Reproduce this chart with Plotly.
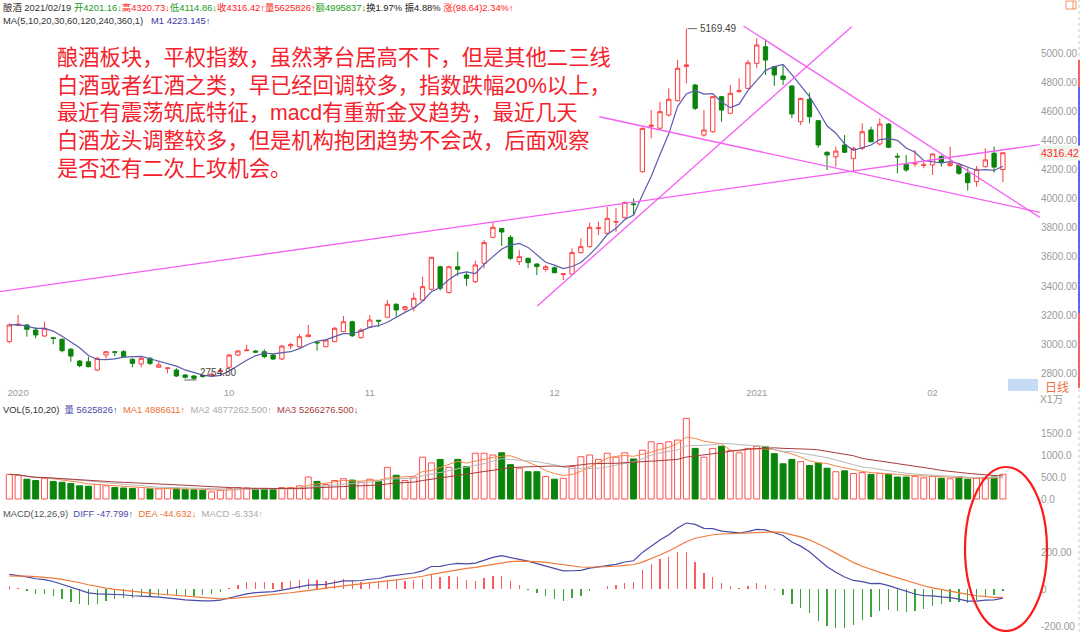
import numpy as np
import pandas as pd
import plotly.graph_objects as go

# ---------------- data ----------------
opens = [3018, 3130, 3133, 3098, 3057, 3045, 3034, 2966, 2885, 2880,
         2823, 2926, 2949, 2949, 2897, 2865, 2904, 2842, 2835, 2823,
         2789, 2782, 2785, 2782, 2812, 2842, 2926, 2956, 2954, 2949,
         2926, 2899, 2990, 2983, 3052, 3015, 2983, 3018, 3087, 3155,
         3045, 3117, 3165, 3186, 3275, 3240, 3254, 3304, 3378, 3533,
         3355, 3533, 3476, 3430, 3557, 3735, 3795, 3735, 3568, 3591,
         3552, 3515, 3526, 3480, 3483, 3630, 3671, 3795, 3763, 3840,
         3870, 3965, 4186, 4498, 4485, 4576, 4674, 4910, 4782, 4438,
         4461, 4702, 4588, 4736, 4759, 4931, 5045, 4908, 4844, 4775,
         4530, 4684, 4537, 4320, 4289, 4370, 4278, 4347, 4473, 4377,
         4514, 4292, 4237, 4240, 4229, 4233, 4290, 4228, 4233, 4175,
         4118, 4221, 4313, 4201.16]
highs = [3144, 3201, 3138, 3117, 3155, 3046, 3040, 2975, 2892, 2915,
         2912, 2953, 2950, 2961, 2904, 2915, 2911, 2880, 2838, 2835,
         2796, 2789, 2790, 2800, 2835, 2933, 2961, 2995, 2958, 2966,
         2933, 2995, 3010, 3069, 3133, 3017, 3032, 3120, 3194, 3162,
         3110, 3201, 3166, 3304, 3282, 3262, 3354, 3465, 3600, 3540,
         3540, 3636, 3499, 3575, 3717, 3838, 3800, 3750, 3648, 3595,
         3556, 3545, 3535, 3486, 3660, 3728, 3836, 3843, 3946, 3935,
         3980, 4003, 4490, 4610, 4667, 4759, 4954, 5169.49, 4790, 4610,
         4706, 4705, 4782, 4828, 4954, 5103, 5087, 4910, 4920, 4782,
         4695, 4729, 4540, 4324, 4358, 4438, 4358, 4519, 4496, 4553,
         4520, 4313, 4301, 4335, 4255, 4313, 4301, 4358, 4240, 4210,
         4225, 4347, 4358, 4320.73]
lows = [3007, 3125, 3052, 3041, 3052, 3000, 2945, 2880, 2842, 2842,
        2816, 2904, 2919, 2910, 2842, 2842, 2858, 2838, 2801, 2775,
        2766, 2754.80, 2770, 2778, 2805, 2835, 2920, 2955, 2942, 2904,
        2892, 2892, 2968, 2978, 3050, 2956, 2980, 3015, 3085, 3050,
        3040, 3115, 3121, 3180, 3190, 3225, 3225, 3300, 3370, 3370,
        3350, 3470, 3400, 3420, 3522, 3730, 3676, 3580, 3545, 3522,
        3476, 3499, 3488, 3442, 3476, 3625, 3665, 3751, 3760, 3774,
        3865, 3889, 4180, 4416, 4475, 4565, 4670, 4794, 4610, 4427,
        4455, 4530, 4585, 4730, 4755, 4897, 4851, 4775, 4782, 4555,
        4507, 4519, 4350, 4198, 4220, 4315, 4186, 4335, 4388, 4365,
        4348, 4175, 4186, 4221, 4210, 4164, 4221, 4221, 4165, 4056,
        4083, 4215, 4179, 4114.86]
closes = [3133, 3137, 3103, 3064, 3110, 3040, 2956, 2919, 2853, 2846,
          2904, 2949, 2945, 2915, 2869, 2904, 2869, 2858, 2837, 2782,
          2773, 2766, 2780, 2795, 2818, 2926, 2954, 2960, 2946, 2915,
          2899, 2988, 2997, 3052, 3064, 3010, 3029, 3110, 3155, 3059,
          3098, 3167, 3160, 3275, 3236, 3258, 3316, 3396, 3598, 3385,
          3533, 3515, 3454, 3545, 3699, 3804, 3772, 3591, 3602, 3561,
          3534, 3533, 3492, 3484, 3630, 3671, 3804, 3800, 3866, 3843,
          3975, 3960, 4484, 4505, 4599, 4684, 4897, 4920, 4622, 4473,
          4702, 4610, 4725, 4743, 4935, 5057, 4954, 4851, 4821, 4583,
          4690, 4564, 4370, 4301, 4328, 4320, 4347, 4461, 4392, 4514,
          4354, 4288, 4198, 4245, 4233, 4308, 4248, 4244, 4175, 4111,
          4203, 4267.5, 4217.78, 4316.42]
# volume in units of 10,000 (X1万)
volumes = [560, 540, 450, 420, 470, 400, 380, 350, 300, 290,
           330, 300, 260, 250, 240, 260, 230, 230, 240, 240,
           220, 210, 200, 160, 200, 240, 260, 250, 230, 230,
           220, 260, 260, 300, 500, 400, 330, 420, 460, 430,
           380, 450, 400, 720, 540, 420, 500, 950, 820, 900,
           720, 900, 740, 1040, 1040, 1000, 1050, 780, 700, 620,
           620, 510, 450, 470, 740, 960, 1000, 900, 1040, 950,
           1050, 910, 1110, 1300, 1260, 1300, 1340, 1833, 1150, 950,
           1150, 1200, 1100, 1050, 1150, 1200, 1190, 1030, 800, 900,
           850, 760, 820, 700, 620, 640, 580, 600, 560, 580,
           560, 500, 500, 515, 480, 520, 470, 460, 504, 450,
           470, 460, 500, 562.5826]
month_tick_idx = [1, 25, 41, 62, 85, 105]
month_tick_text = ["2020", "10", "11", "12", "2021", "02"]
price_ticks = [2800, 3000, 3200, 3400, 3600, 3800, 4000, 4200, 4400, 4600, 4800, 5000]
vol_ticks = [0, 500, 1000, 1500]
macd_ticks = [-200, 0, 200]
macd_tick_text = ["-200.00", "0", "200.00"]
# MACD state at the left edge
diff_start, dea_start = 81.0, 72.0
# hand-drawn trend lines: (index, price) end points
trend_lines = [
    ((-1.06, 3362), (117.2, 4372)),
    ((67.1, 4564), (117.2, 3907)),
    ((83.5, 5188), (117.2, 3872)),
    ((60.05, 3263), (95.8, 5183)),
]
high_mark = (77, 5169.49)
low_mark = (21, 2754.80)
note_lines = [
    "酿酒板块，平权指数，虽然茅台居高不下，但是其他二三线",
    "白酒或者红酒之类，早已经回调较多，指数跌幅20%以上，",
    "最近有震荡筑底特征，macd有重新金叉趋势，最近几天",
    "白酒龙头调整较多，但是机构抱团趋势不会改，后面观察",
    "是否还有二次上攻机会。",
]

# ---------------- derived series ----------------
n = len(closes)
idx = list(range(n))
c = np.array(closes, dtype=float)
o = np.array(opens, dtype=float)
up = c >= o
ma5 = pd.Series(c).rolling(5, min_periods=1).mean()
vs = pd.Series(volumes, dtype=float)
vma5 = vs.rolling(5, min_periods=1).mean()
vma10 = vs.rolling(10, min_periods=1).mean()
vma20 = vs.rolling(20, min_periods=1).mean()

e12 = c[0]
e26 = c[0] - diff_start
dea = dea_start
diffs, deas = [], []
for i in range(n):
    if i > 0:
        e12 = e12 * 11 / 13 + c[i] * 2 / 13
        e26 = e26 * 25 / 27 + c[i] * 2 / 27
        d = e12 - e26
        dea = dea * 8 / 10 + d * 2 / 10
    else:
        d = diff_start
    diffs.append(d)
    deas.append(dea)
diffs = np.array(diffs)
deas = np.array(deas)
hist = 2 * (diffs - deas)

# ---------------- figure ----------------
W, H = 1080, 632
def px(x): return x / W
def py(y): return 1 - y / H

RED = "#ff3b3b"
GREEN = "#0a840a"
FONT = "Liberation Sans, Noto Sans CJK SC, sans-serif"

fig = go.Figure()

fig.add_trace(go.Candlestick(
    x=idx, open=opens, high=highs, low=lows, close=closes,
    increasing=dict(line=dict(color=RED, width=1), fillcolor="white"),
    decreasing=dict(line=dict(color=GREEN, width=1), fillcolor=GREEN),
    whiskerwidth=0, xaxis="x", yaxis="y", hoverinfo="skip"))
fig.add_trace(go.Scatter(x=idx, y=ma5, mode="lines",
                         line=dict(color="#5c5cae", width=1.2), xaxis="x", yaxis="y"))
for (x0, y0), (x1, y1) in trend_lines:
    fig.add_trace(go.Scatter(x=[x0, x1], y=[y0, y1], mode="lines",
                             line=dict(color="#f55ff5", width=1.3), xaxis="x", yaxis="y"))

# volume
fig.add_trace(go.Bar(
    x=idx, y=volumes, width=0.68,
    marker=dict(color=["white" if u else GREEN for u in up],
                line=dict(color=["#ff5050" if u else GREEN for u in up], width=1)),
    xaxis="x", yaxis="y2"))
for s, col in [(vma5, "#f5884a"), (vma10, "#b9b9b9"), (vma20, "#a83c3c")]:
    fig.add_trace(go.Scatter(x=idx, y=s, mode="lines", line=dict(color=col, width=1),
                             xaxis="x", yaxis="y2"))

# MACD
fig.add_trace(go.Bar(
    x=idx, y=hist, width=0.15,
    marker=dict(color=["#ff5a5a" if h >= 0 else "#3aa33a" for h in hist], line=dict(width=0)),
    xaxis="x", yaxis="y3"))
fig.add_trace(go.Scatter(x=idx, y=diffs, mode="lines", line=dict(color="#4a4aa8", width=1.2),
                         xaxis="x", yaxis="y3"))
fig.add_trace(go.Scatter(x=idx, y=deas, mode="lines", line=dict(color="#f07a3a", width=1.2),
                         xaxis="x", yaxis="y3"))

axis_font = dict(family=FONT, size=10, color="#9a9a9a")
fig.update_layout(
    width=W, height=H, margin=dict(l=0, r=0, t=0, b=0),
    template="none", paper_bgcolor="white", plot_bgcolor="white",
    showlegend=False, hovermode=False, bargap=0,
    font=dict(family=FONT, size=10, color="#333"),
    xaxis=dict(domain=[0, px(1040)], range=[-1.058, 117.22], anchor="y",
               tickvals=month_tick_idx, ticktext=month_tick_text,
               tickfont=dict(family=FONT, size=9.5, color="#9a9a9a"),
               showgrid=False, zeroline=False, showline=False, ticks="",
               rangeslider=dict(visible=False), automargin=False),
    yaxis=dict(domain=[py(385), py(20)], range=[2720.2, 5228.9], side="right", anchor="x",
               tickvals=price_ticks, tickformat=".2f", tickfont=axis_font,
               showgrid=False, zeroline=False, showline=False, ticks="", automargin=False),
    yaxis2=dict(domain=[py(500), py(413)], range=[-22.7, 1954.5], side="right", anchor="x",
                tickvals=vol_ticks, tickformat=".1f", tickfont=axis_font,
                showgrid=False, zeroline=False, showline=False, ticks="", automargin=False),
    yaxis3=dict(domain=[0, py(520)], range=[-230.8, 374.6], side="right", anchor="x",
                tickvals=macd_ticks, ticktext=macd_tick_text, tickfont=axis_font,
                showgrid=False, zeroline=False, showline=False, ticks="", automargin=False),
)

ann = []
def span(t, col):
    return f'<span style="color:{col}">{t}</span>'

hdr1 = (span("酿酒 2021/02/19 ", "#333") + span("开4201.16↓", "#1a9a1a") +
        span("高4320.73↓", "#ff2222") + span("低4114.86↓", "#1a9a1a") +
        span("收4316.42↑", "#ff2222") + span("量5625826↑", "#ff2222") +
        span("额4995837↓", "#1a9a1a") + span("换1.97% 振4.88% ", "#222") +
        span("涨(98.64)2.34%↑", "#ff2222"))
hdr2 = span("MA(5,10,20,30,60,120,240,360,1)", "#333") + "   " + span("M1 4223.145↑", "#3a3aa0")
hdr3 = (span("VOL(5,10,20)", "#333") + "  " + span("量 5625826↑", "#4a4aa8") + "  " +
        span("MA1 4886611↑", "#f07030") + "  " + span("MA2 4877262.500↑", "#aaaaaa") + "  " +
        span("MA3 5266276.500↓", "#a83c3c"))
hdr4 = (span("MACD(12,26,9)", "#555") + "  " + span("DIFF -47.799↑", "#4a4aa8") + "  " +
        span("DEA -44.632↓", "#f07030") + "  " + span("MACD -6.334↑", "#aaaaaa"))
for t, y in [(hdr1, 8), (hdr2, 21), (hdr3, 409), (hdr4, 513)]:
    ann.append(dict(text=t, xref="paper", yref="paper", x=px(1), y=py(y),
                    xanchor="left", yanchor="middle", showarrow=False,
                    font=dict(family=FONT, size=9.4)))

ann.append(dict(text="<br>".join(note_lines), xref="paper", yref="paper",
                x=px(55), y=py(113), xanchor="left", yanchor="middle", align="left",
                showarrow=False,
                font=dict(family="Liberation Sans, Noto Sans CJK SC", size=21.3,
                          color="#f5222d")))

# high / low markers
ann.append(dict(text=f"{high_mark[1]:.2f}", x=high_mark[0] + 1.3, y=high_mark[1],
                xref="x", yref="y", xanchor="left", yanchor="middle", showarrow=False,
                font=dict(family=FONT, size=10, color="#444")))
ann.append(dict(text=f"{low_mark[1]:.2f}", x=low_mark[0] + 0.5, y=low_mark[1],
                xref="x", yref="y", xanchor="left", yanchor="bottom", showarrow=False,
                font=dict(family=FONT, size=10, color="#444")))
# last price label
ann.append(dict(text="4316.42", xref="paper", yref="y", x=px(1060), y=closes[-1],
                xanchor="center", yanchor="middle", showarrow=False, bgcolor="#eef4ee",
                font=dict(family=FONT, size=10.5, color="#ff2a2a")))
ann.append(dict(text="日线", xref="paper", yref="paper", x=px(1057), y=py(386),
                xanchor="center", yanchor="middle", showarrow=False,
                font=dict(family="Noto Sans CJK SC", size=12, color="#ee7040")))
ann.append(dict(text="X1万", xref="paper", yref="paper", x=px(1051), y=py(399),
                xanchor="center", yanchor="middle", showarrow=False,
                font=dict(family=FONT, size=10.5, color="#999")))
fig.update_layout(annotations=ann)

shapes = [
    dict(type="line", xref="x", yref="y", x0=high_mark[0] + 0.15, x1=high_mark[0] + 1.2,
         y0=high_mark[1], y1=high_mark[1], line=dict(color="#666", width=1)),
    dict(type="line", xref="x", yref="y", x0=low_mark[0] - 1.1, x1=low_mark[0] + 0.3,
         y0=low_mark[1], y1=low_mark[1], line=dict(color="#666", width=1)),
    dict(type="circle", xref="paper", yref="paper", x0=px(965), x1=px(1047),
         y0=py(631), y1=py(467), line=dict(color="#ff1a1a", width=2.2)),
    dict(type="rect", xref="paper", yref="paper", x0=px(1008), x1=px(1038),
         y0=py(391), y1=py(379), fillcolor="#c6dcf4", line=dict(width=0)),
    dict(type="line", xref="paper", yref="paper", x0=px(1079), x1=px(1079),
         y0=0, y1=1, line=dict(color="#c8c8c8", width=1, dash="dot")),
    dict(type="line", xref="paper", yref="paper", x0=px(1079), x1=px(1079),
         y0=py(87), y1=py(60), line=dict(color="#ff3030", width=1.5)),
    dict(type="line", xref="paper", yref="paper", x0=px(1079), x1=px(1079),
         y0=py(313), y1=py(87), line=dict(color="#3030ff", width=1.5)),
    dict(type="line", xref="paper", yref="paper", x0=px(1079), x1=px(1079),
         y0=py(388), y1=py(313), line=dict(color="#ff3030", width=1.5)),
    dict(type="rect", xref="paper", yref="paper", x0=px(1066), x1=px(1076),
         y0=py(9), y1=py(1), line=dict(color="#f09060", width=1)),
    dict(type="line", xref="paper", yref="paper", x0=px(1073), x1=px(1073),
         y0=py(9), y1=py(1), line=dict(color="#f09060", width=1)),
]
fig.update_layout(shapes=shapes)

fig.write_html("out.html", config={"displayModeBar": False, "staticPlot": True},
               post_script="document.body.style.margin='0';document.body.style.overflow='hidden';")
